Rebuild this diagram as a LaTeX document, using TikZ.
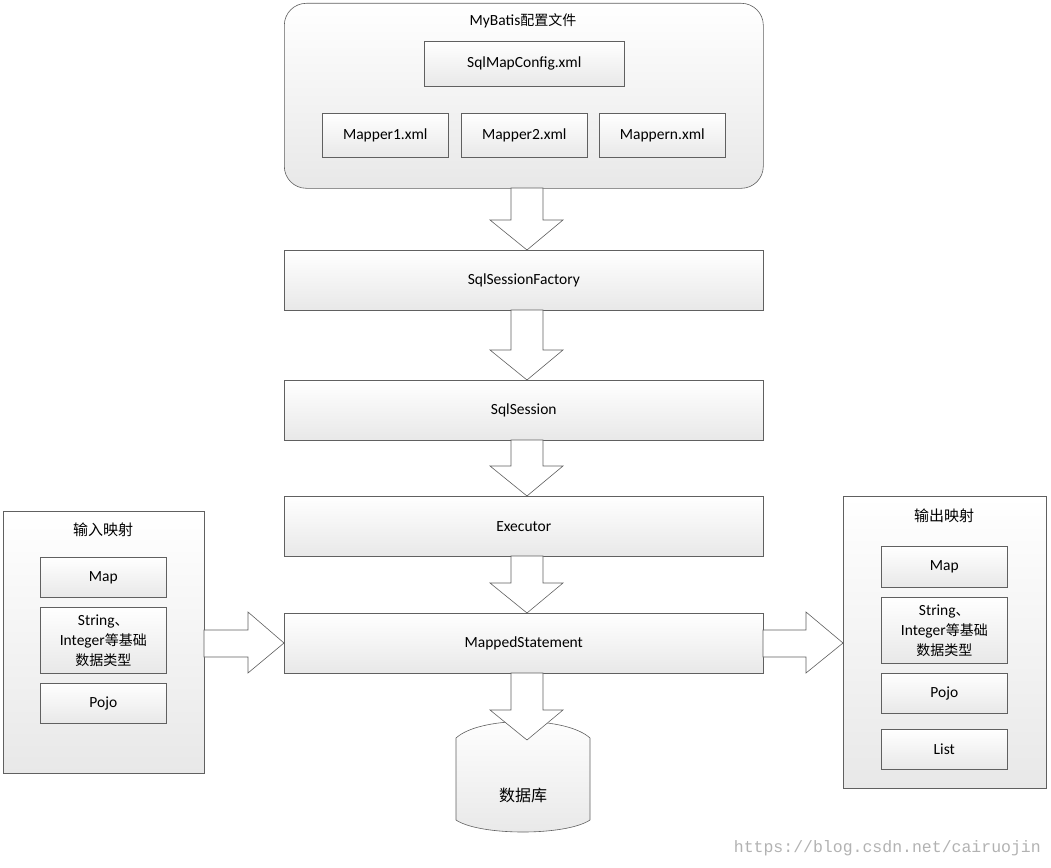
\documentclass[tikz,border=0pt]{standalone}
\usepackage{fontspec}
\setmainfont{Carlito}
\newfontfamily\cjk{Noto Sans CJK SC}
\newfontfamily\wm{Liberation Mono}
\begin{document}
\begin{tikzpicture}[x=1pt,y=-1pt,
  box/.style={draw=gray!75!black,top color=white,bottom color=gray!18,line width=0.6pt,inner sep=0pt,font=\fontsize{15.5}{18}\selectfont},
  barrow/.style={draw=gray!75!black,fill=white,line width=0.6pt},
  lbl/.style={font=\fontsize{15.5}{18}\selectfont,inner sep=0pt}]
\useasboundingbox (0,0) rectangle (1051,867);
\tikzset{rect/.style args={#1,#2,#3,#4}{box,minimum width=#3-#1,minimum height=#4-#2,anchor=north west}}
% top config box
\node[box,rounded corners=22pt,anchor=north west,minimum width=479,minimum height=185] (cfg) at (284,3) {};
\node[lbl] (cfgt) at (523,21) {MyBatis{\cjk\fontsize{14}{16}\selectfont 配置文件}};
\node[rect={424,41,624,86}] (smc) at (424,41) {SqlMapConfig.xml};
\node[rect={322,113,448,157}] (m1) at (322,113) {Mapper1.xml};
\node[rect={461,113,587,157}] (m2) at (461,113) {Mapper2.xml};
\node[rect={599,113,725,157}] (mn) at (599,113) {Mappern.xml};
% main chain
\node[rect={284,250,763,310}] (ssf) at (284,250) {SqlSessionFactory};
\node[rect={284,380,763,440}] (ss) at (284,380) {SqlSession};
\node[rect={284,496,763,556}] (ex) at (284,496) {Executor};
\node[rect={284,613,763,673}] (ms) at (284,613) {MappedStatement};
% database
\draw[box] (456,738) .. controls (480,716) and (566,716) .. (590,738) -- (590,820)
  .. controls (566,836) and (480,836) .. (456,820) -- cycle;
\node[lbl,font=\cjk\fontsize{16}{18}\selectfont] (db) at (523,795) {数据库};
% down arrows
\foreach \a/\b in {188/250,310/380,440/496,556/613,673/740}{
  \pgfmathsetmacro\h{\b-30}
  \draw[barrow] (511,\a) -- (543,\a) -- (543,\h) -- (563,\h) -- (527,\b) -- (490,\h) -- (511,\h) -- cycle;
}
% left box
\node[rect={3,511,204,773}] (inb) at (3,511) {};
\node[lbl,font=\cjk\fontsize{15}{17}\selectfont] (int) at (103,530) {输入映射};
\node[rect={40,557,166,597}] (imap) at (40,557) {Map};
\node[rect={40,607,166,673},align=center,font=\fontsize{15.5}{20}\selectfont] (istr) at (40,607) {String{\cjk\fontsize{14}{16}\selectfont 、}\\Integer{\cjk\fontsize{14}{16}\selectfont 等基础}\\{\cjk\fontsize{14}{16}\selectfont 数据类型}};
\node[rect={40,683,166,723}] (ipojo) at (40,683) {Pojo};
% right box
\node[rect={843,496,1046,788}] (outb) at (843,496) {};
\node[lbl,font=\cjk\fontsize{15}{17}\selectfont] (outt) at (944,516) {输出映射};
\node[rect={881,546,1007,587}] (omap) at (881,546) {Map};
\node[rect={881,597,1007,663},align=center,font=\fontsize{15.5}{20}\selectfont] (ostr) at (881,597) {String{\cjk\fontsize{14}{16}\selectfont 、}\\Integer{\cjk\fontsize{14}{16}\selectfont 等基础}\\{\cjk\fontsize{14}{16}\selectfont 数据类型}};
\node[rect={881,673,1007,713}] (opojo) at (881,673) {Pojo};
\node[rect={881,729,1007,769}] (olist) at (881,729) {List};
% side arrows
\draw[barrow] (204,630) -- (248,630) -- (248,612) -- (284,643) -- (248,673) -- (248,657) -- (204,657) -- cycle;
\draw[barrow] (763,630) -- (806,630) -- (806,612) -- (843,643) -- (806,673) -- (806,657) -- (763,657) -- cycle;
% watermark
\node[font=\wm\fontsize{16.5}{18}\selectfont,text=gray!60,anchor=east,inner sep=0pt] (wmk) at (1041,848) {https://blog.csdn.net/cairuojin};
\end{tikzpicture}
\end{document}
